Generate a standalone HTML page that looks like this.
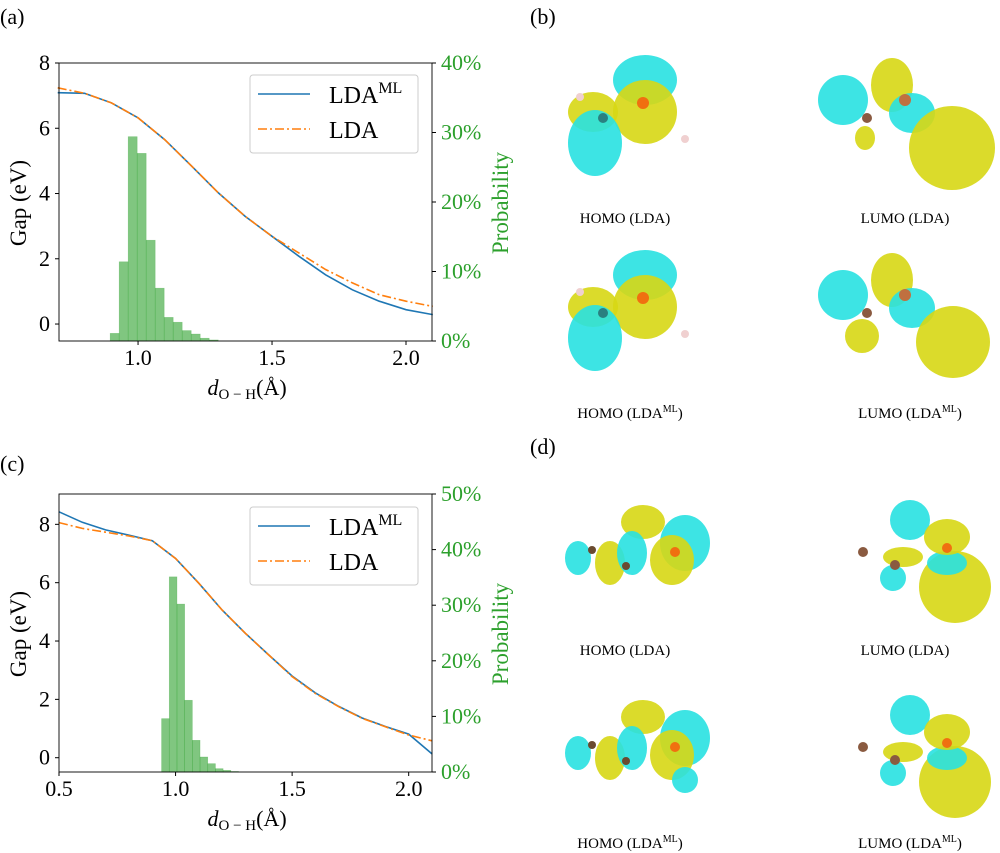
<!DOCTYPE html>
<html><head><meta charset="utf-8"><style>
body{margin:0;background:#fff;}
svg{display:block;font-family:"Liberation Serif",serif;}
</style></head><body>
<svg id="fig" width="1000" height="853" viewBox="0 0 1000 853">
<g id="charts"></g>
<g id="mols"></g>
<text x="0" y="24" font-size="22">(a)</text>
<text x="530" y="24" font-size="22">(b)</text>
<text x="0" y="471" font-size="22">(c)</text>
<text x="530" y="454" font-size="22">(d)</text>
<g font-size="15" text-anchor="middle">
<text x="625" y="223">HOMO (LDA)</text>
<text x="905" y="223">LUMO (LDA)</text>
<text x="630" y="418">HOMO (LDA<tspan font-size="10" dy="-6">ML</tspan><tspan dy="6">)</tspan></text>
<text x="910" y="418">LUMO (LDA<tspan font-size="10" dy="-6">ML</tspan><tspan dy="6">)</tspan></text>
<text x="625" y="655">HOMO (LDA)</text>
<text x="905" y="655">LUMO (LDA)</text>
<text x="630" y="848">HOMO (LDA<tspan font-size="10" dy="-6">ML</tspan><tspan dy="6">)</tspan></text>
<text x="910" y="848">LUMO (LDA<tspan font-size="10" dy="-6">ML</tspan><tspan dy="6">)</tspan></text>
</g>
</svg>
<script>
// ---- Panel (a) data ----
const xA = [0.7,0.8,0.9,1.0,1.1,1.2,1.3,1.4,1.5,1.6,1.7,1.8,1.9,2.0,2.1];
const ldaA = [7.24,7.07,6.78,6.32,5.65,4.84,4.02,3.30,2.69,2.18,1.67,1.26,0.90,0.70,0.54];
const mlA  = [7.09,7.07,6.78,6.32,5.65,4.84,4.02,3.30,2.69,2.08,1.51,1.05,0.70,0.44,0.29];
const histStartA = 0.896, histWidthA = 0.0336;
const histA = [1.1,11.4,29.4,27.0,14.5,7.6,3.4,2.7,1.5,1.0,0.4,0.15];
const xTicksA = [1.0,1.5,2.0];
const yTicksA = [0,2,4,6,8];
const pTicksA = [0,10,20,30,40];
// ---- Panel (c) data ----
const xC = [0.5,0.6,0.7,0.8,0.9,1.0,1.1,1.2,1.3,1.4,1.5,1.6,1.7,1.8,1.9,2.0,2.1];
const ldaC = [8.06,7.86,7.73,7.60,7.44,6.83,5.98,5.06,4.26,3.52,2.78,2.20,1.75,1.35,1.06,0.78,0.58];
const mlC  = [8.43,8.07,7.81,7.63,7.44,6.83,5.98,5.06,4.26,3.52,2.80,2.22,1.76,1.36,1.07,0.81,0.13];
const histStartC = 0.94, histWidthC = 0.033;
const histC = [9.6,35.1,30.2,12.9,5.7,2.7,1.5,0.6,0.3,0.1];
const xTicksC = [0.5,1.0,1.5,2.0];
const yTicksC = [0,2,4,6,8];
const pTicksC = [0,10,20,30,40,50];

const NS="http://www.w3.org/2000/svg";
function mk(tag,attrs,parent){const e=document.createElementNS(NS,tag);for(const k in attrs)e.setAttribute(k,attrs[k]);parent.appendChild(e);return e;}

function panel(o){
  const g=mk('g',{},document.getElementById('charts'));
  
  
  const sx=v=>o.L+(v-o.x0)/(o.x1-o.x0)*(o.R-o.L);
  const sy=v=>o.B-(v-o.y0)/(o.y1-o.y0)*(o.B-o.T);
  const sp=v=>o.B-v/o.pmax*(o.B-o.T);
  o.hist.forEach((h,i)=>{
    const a=o.hs+i*o.hw, b=a+o.hw;
    const r=mk('rect',{x:sx(a),y:sp(h),width:sx(b)-sx(a),height:o.B-sp(h),fill:'rgba(44,160,44,0.6)',stroke:'rgba(44,160,44,0.35)','stroke-width':0.6},g);
    
    
  });
  const line=(ys,col,dash,nm)=>{
    const p=mk('path',{d:o.xs.map((x,i)=>(i?'L':'M')+sx(x).toFixed(1)+','+sy(ys[i]).toFixed(1)).join(''),fill:'none',stroke:col,'stroke-width':1.6,'stroke-dasharray':dash},g);
    
    
  };
  line(o.ml,'#1f77b4','none','ldaml-line');
  line(o.lda,'#ff7f0e','9,3,2,3','lda-line');
  const f=mk('rect',{x:o.L,y:o.T,width:o.R-o.L,height:o.B-o.T,fill:'none',stroke:'#000','stroke-width':0.9},g);
  
  
  o.xt.forEach(v=>{
    mk('line',{x1:sx(v),x2:sx(v),y1:o.B,y2:o.B+4,stroke:'#000'},g);
    const t=mk('text',{x:sx(v),y:o.B+24,'font-size':22,'text-anchor':'middle'},g);
    t.textContent=v.toFixed(1);
    
    
  });
  o.yt.forEach(v=>{
    mk('line',{x1:o.L-4,x2:o.L,y1:sy(v),y2:sy(v),stroke:'#000'},g);
    const t=mk('text',{x:o.L-9,y:sy(v)+7,'font-size':22,'text-anchor':'end'},g);
    t.textContent=v;
    
    
  });
  o.pt.forEach(v=>{
    mk('line',{x1:o.R,x2:o.R+4,y1:sp(v),y2:sp(v),stroke:'#000'},g);
    const t=mk('text',{x:o.R+9,y:sp(v)+7,'font-size':22,fill:'#2ca02c'},g);
    t.textContent=v+'%';
    
    
  });
  const cy=(o.T+o.B)/2+1;
  const yl=mk('text',{x:0,y:0,'font-size':23,'text-anchor':'middle',transform:`translate(26,${cy}) rotate(-90)`},g);
  yl.textContent='Gap (eV)';
  
  
  const pl=mk('text',{x:0,y:0,'font-size':23,fill:'#2ca02c','text-anchor':'middle',transform:`translate(508,${cy}) rotate(-90)`},g);
  pl.textContent='Probability';
  
  
  const xl=mk('text',{x:(o.L+o.R)/2-38,y:o.B+54,'font-size':22},g);
  xl.innerHTML='<tspan font-style="italic">d</tspan><tspan font-size="15" dy="4">O − H</tspan><tspan dy="-4">(Å)</tspan>';
  
  
  const lg=mk('g',{},g);
  
  
  mk('rect',{x:250,y:o.lgy,width:168,height:78,rx:3,fill:'#fff','fill-opacity':0.85,stroke:'#ccc'},lg);
  mk('line',{x1:258,x2:310,y1:o.lgy+19,y2:o.lgy+19,stroke:'#1f77b4','stroke-width':1.6},lg);
  mk('line',{x1:258,x2:310,y1:o.lgy+54,y2:o.lgy+54,stroke:'#ff7f0e','stroke-width':1.6,'stroke-dasharray':'9,3,2,3'},lg);
  const t1=mk('text',{x:329,y:o.lgy+28,'font-size':24},lg);
  t1.innerHTML='LDA<tspan font-size="16" dy="-10">ML</tspan>';
  
  
  const t2=mk('text',{x:329,y:o.lgy+63,'font-size':24},lg);
  t2.textContent='LDA';
  
  
}
panel({name:'chart-a',L:59,R:432,T:63,B:341,x0:0.705,x1:2.097,y0:-0.52,y1:8.0,pmax:40,
  xs:xA,lda:ldaA,ml:mlA,hs:histStartA,hw:histWidthA,hist:histA,xt:xTicksA,yt:yTicksA,pt:pTicksA,lgy:75});
panel({name:'chart-c',L:59,R:432,T:494,B:772,x0:0.5,x1:2.1,y0:-0.49,y1:9.04,pmax:50,
  xs:xC,lda:ldaC,ml:mlC,hs:histStartC,hw:histWidthC,hist:histC,xt:xTicksC,yt:yTicksC,pt:pTicksC,lgy:507});

const Y='rgba(215,215,20,0.9)',C='rgba(40,225,225,0.9)';
const M=document.getElementById('mols');
function blob(cx,cy,rx,ry,fill,nm){
  const e=mk('ellipse',{cx,cy,rx,ry,fill},M);
  
  
}
function atom(cx,cy,r,fill){
  const e=mk('circle',{cx,cy,r,fill},M);
  
  
}
[0,195].forEach((d,k)=>{
  blob(645,80+d,32,25,C,'homo-lobe');
  blob(593,112+d,25,20,Y,'homo-lobe');
  blob(645,112+d,32,32,Y,'homo-lobe');
  blob(595,143+d,27,33,C,'homo-lobe');
  atom(643,103+d,6,'#f07010');atom(580,97+d,4,'#f0d0d0');atom(685,139+d,4,'#f0d0d0');atom(603,118+d,5,'#2a8080');
  blob(843,100+d,25,25,C,'lumo-lobe');
  blob(892,85+d,21,27,Y,'lumo-lobe');
  blob(912,113+d,23,20,C,'lumo-lobe');
  if(k===0){blob(952,148,43,42,Y,'lumo-lobe');blob(865,138,10,12,Y,'lumo-lobe');}
  else{blob(953,342,37,36,Y,'lumo-lobe');blob(862,336,17,17,Y,'lumo-lobe');}
  atom(867,118+d,5,'#8a5a40');atom(905,100+d,6,'#c07040');
});
[0,195].forEach((d,k)=>{
  blob(578,558+d,13,17,C,'homo-lobe');
  blob(610,563+d,15,22,Y,'homo-lobe');
  blob(643,522+d,22,17,Y,'homo-lobe');
  blob(632,553+d,15,22,C,'homo-lobe');
  blob(685,543+d,25,28,C,'homo-lobe');
  blob(672,560+d,22,25,Y,'homo-lobe');
  if(k===1) blob(685,780,13,13,C,'homo-lobe');
  atom(675,552+d,5,'#f07010');atom(592,550+d,4,'#6a4a30');atom(626,566+d,4,'#6a4a30');
  blob(910,520+d,20,20,C,'lumo-lobe');
  blob(955,587+d,36,36,Y,'lumo-lobe');
  blob(947,563+d,20,12,C,'lumo-lobe');
  blob(947,537+d,23,18,Y,'lumo-lobe');
  blob(893,578+d,13,13,C,'lumo-lobe');
  blob(903,557+d,20,10,Y,'lumo-lobe');
  atom(863,552+d,5,'#8a5a40');atom(895,565+d,5,'#8a5a40');atom(947,548+d,5,'#f07010');
});
</script>
</body></html>
